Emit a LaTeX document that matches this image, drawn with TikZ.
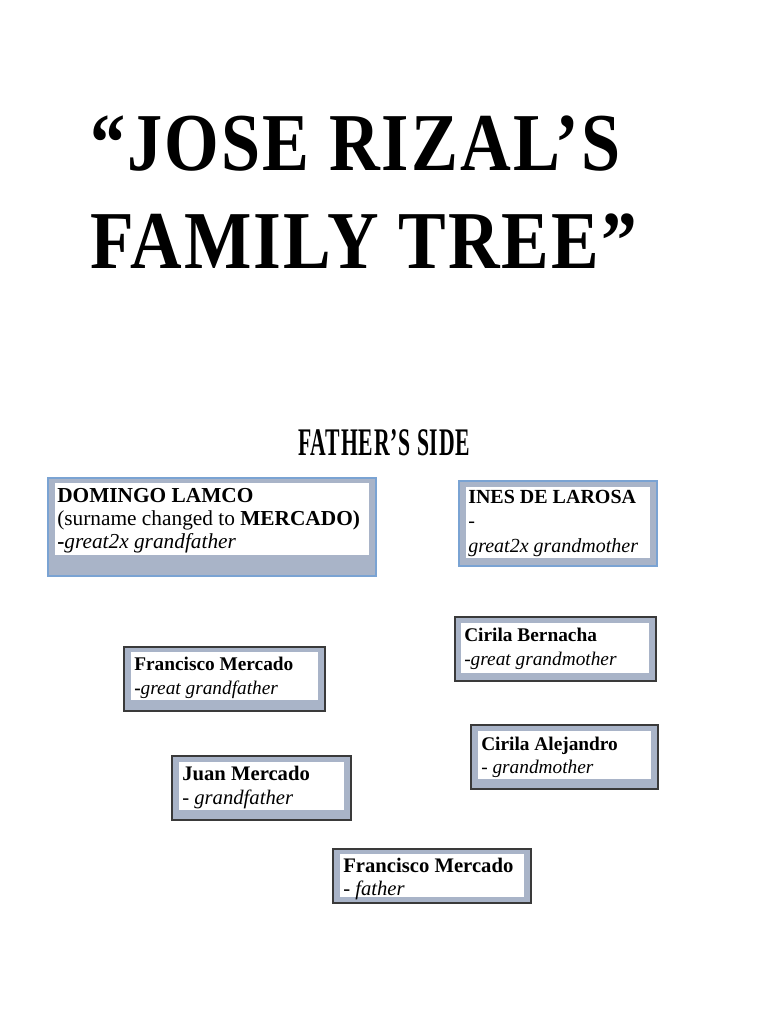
\documentclass[tikz,border=0pt]{standalone}
\usepackage{fontspec}
\setmainfont{Liberation Serif}
\newfontfamily\titlefont[LetterSpace=3]{Liberation Serif}
\newfontfamily\sidefont[LetterSpace=4]{Liberation Serif}
\usepackage{graphicx}
\definecolor{cardfill}{HTML}{A9B4C8}
\definecolor{cardblue}{HTML}{7AA3D3}
\definecolor{carddark}{HTML}{3A3A3A}
\tikzset{
  cardouter/.style={fill=cardfill, line width=0.9pt},
  cardinner/.style={fill=white, draw=none},
  cardtext/.style={anchor=base west, inner sep=0pt},
}
\begin{document}
\begin{tikzpicture}[x=0.75pt,y=-0.75pt]
\useasboundingbox[fill=white] (0,0) rectangle (768,1024);

% Title
\node[anchor=base west, inner sep=0pt] (title1) at (90,170)
  {\resizebox{397.5pt}{41pt}{\titlefont\bfseries “JOSE RIZAL’S}};
\node[anchor=base west, inner sep=0pt] (title2) at (90,268)
  {\resizebox{410pt}{41pt}{\titlefont\bfseries FAMILY TREE”}};
\node[anchor=base west, inner sep=0pt] (side) at (298,455)
  {\resizebox{129pt}{19.5pt}{\sidefont\bfseries FATHER’S SIDE}};

% Card 1: Domingo Lamco
\draw[cardouter, draw=cardblue] (48,478) rectangle (376,576);
\fill[cardinner] (55,483) rectangle (369,555);
\begin{scope}[every node/.style={cardtext, font=\fontsize{16}{18}\selectfont}]
\node (domingoA) at (57,502) {\textbf{DOMINGO LAMCO}};
\node (domingoB) at (57,525) {(surname changed to \textbf{MERCADO)}};
\node (domingoC) at (57,548) {\textbf{-}\textit{great2x grandfather}};
\end{scope}

% Card 2: Ines de Larosa
\draw[cardouter, draw=cardblue] (459,481) rectangle (657,566);
\fill[cardinner] (466,487) rectangle (650,558);
\begin{scope}[every node/.style={cardtext, font=\fontsize{15}{18}\selectfont}]
\node (inesA) at (468,503) {\textbf{INES DE LAROSA}};
\node (inesB) at (468,527) {-};
\node (inesC) at (468,552) {\textit{great2x grandmother}};
\end{scope}

% Card 3: Cirila Bernacha
\draw[cardouter, draw=carddark] (455,617) rectangle (656,681);
\fill[cardinner] (461,623) rectangle (649,673);
\begin{scope}[every node/.style={cardtext, font=\fontsize{14.5}{18}\selectfont}]
\node (bernachaA) at (464,641) {\textbf{Cirila Bernacha}};
\node (bernachaB) at (464,665) {-\textit{great grandmother}};
\end{scope}

% Card 4: Francisco Mercado (great grandfather)
\draw[cardouter, draw=carddark] (124,647) rectangle (325,711);
\fill[cardinner] (131,652) rectangle (318,700);
\begin{scope}[every node/.style={cardtext, font=\fontsize{14.5}{18}\selectfont}]
\node (franciscoA) at (134,670) {\textbf{Francisco Mercado}};
\node (franciscoB) at (134,694) {\textbf{-}\textit{great grandfather}};
\end{scope}

% Card 5: Cirila Alejandro
\draw[cardouter, draw=carddark] (471,725) rectangle (658,789);
\fill[cardinner] (478,731) rectangle (651,779);
\begin{scope}[every node/.style={cardtext, font=\fontsize{14.5}{18}\selectfont}]
\node (alejandroA) at (481,750) {\textbf{Cirila Alejandro}};
\node (alejandroB) at (481,773) {- \textit{grandmother}};
\end{scope}

% Card 6: Juan Mercado
\draw[cardouter, draw=carddark] (172,756) rectangle (351,820);
\fill[cardinner] (179,762) rectangle (344,810);
\begin{scope}[every node/.style={cardtext, font=\fontsize{15.5}{18}\selectfont}]
\node (juanA) at (182,780) {\textbf{Juan Mercado}};
\node (juanB) at (182,804) {- \textit{grandfather}};
\end{scope}

% Card 7: Francisco Mercado (father)
\draw[cardouter, draw=carddark] (333,849) rectangle (531,903);
\fill[cardinner] (340,854) rectangle (524,897);
\begin{scope}[every node/.style={cardtext, font=\fontsize{15.5}{18}\selectfont}]
\node (fatherA) at (343,872) {\textbf{Francisco Mercado}};
\node (fatherB) at (343,895) {- \textit{father}};
\end{scope}
\end{tikzpicture}
\end{document}
